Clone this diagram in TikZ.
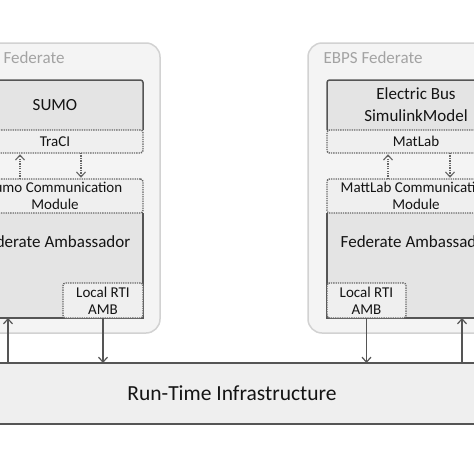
\documentclass[tikz,border=0pt]{standalone}
\usepackage{fontspec}
\setmainfont{Carlito}
\usetikzlibrary{arrows.meta,calc}
\definecolor{outerfill}{HTML}{F4F4F4}
\definecolor{outerline}{HTML}{D2D2D2}
\definecolor{darkfill}{HTML}{E4E4E4}
\definecolor{lightfill}{HTML}{EFEFEF}
\definecolor{lineg}{HTML}{555555}
\definecolor{dotg}{HTML}{666666}
\definecolor{labelg}{HTML}{A3A3A3}
\definecolor{txt}{HTML}{141414}
\tikzset{
  box/.style={rectangle, inner sep=0pt, outer sep=0pt, text=txt, align=center},
  outerbox/.style={box, fill=outerfill, draw=outerline, line width=1.5pt, rounded corners=14pt},
  dotbox/.style={box, draw=dotg, line width=1.4pt, dash pattern=on 1.3pt off 1pt, rounded corners=2.5pt},
  solidline/.style={draw=lineg, line width=1.5pt},
  arr/.style={draw=lineg, line width=1.3pt, -{Straight Barb[length=5pt,width=9pt,line width=1.2pt]}},
  dotarr/.style={draw=dotg, line width=1.2pt, dash pattern=on 1.3pt off 1.1pt, -{Straight Barb[length=5pt,width=9pt,line width=1.1pt,sep]}},
  big/.style={font=\fontsize{17}{20}\selectfont},
  mid/.style={font=\fontsize{15}{17}\selectfont},
  small/.style={font=\fontsize{15}{17}\selectfont},
}
\begin{document}
\begin{tikzpicture}[x=1pt,y=-1pt]
\useasboundingbox (0,0) rectangle (474,474);
\clip (0,0) rectangle (474,474);
\fill[white] (0,0) rectangle (474,474);
% outer federate boxes
\node[outerbox, minimum width=214pt, minimum height=290pt] (outL) at (53,188) {};
\node[outerbox, minimum width=214pt, minimum height=290pt] (outR) at (415,188) {};
\node[anchor=east, text=labelg, big] (labL) at (68,58) {SUMO Federate};
\node[anchor=west, text=labelg, big] (labR) at (320,58) {EBPS Federate};
% ----- left federate -----
\node[box, fill=darkfill, minimum width=176pt, minimum height=50pt, big] (sumo) at (55,105) {SUMO};
\draw[solidline, rounded corners=2.5pt] (sumo.south west) -- (sumo.north west) -- (sumo.north east) -- (sumo.south east);
\node[dotbox, fill=lightfill, minimum width=176pt, minimum height=23pt, mid] (traci) at (55,141.5) {TraCI};
\node[box, fill=darkfill, minimum width=176pt, minimum height=105pt] (faL) at (55,265.5) {};
\draw[solidline] (faL.north west) -- (faL.south west) -- (faL.south east) -- (faL.north east);
\node[dotbox, fill=lightfill, minimum width=176pt, minimum height=34pt, mid] (commL) at (55,196) {Sumo Communication\\Module};
\node[box, big] (faLtext) at (55,242) {Federate Ambassador};
\node[dotbox, fill=lightfill, minimum width=80pt, minimum height=35pt, small] (ambL) at (103,300.5) {Local RTI\\AMB};
% ----- right federate -----
\node[box, fill=darkfill, minimum width=178pt, minimum height=50pt, big] (ebus) at (416,105) {Electric Bus\\[2pt]SimulinkModel};
\draw[solidline, rounded corners=2.5pt] (ebus.south west) -- (ebus.north west) -- (ebus.north east) -- (ebus.south east);
\node[dotbox, fill=lightfill, minimum width=178pt, minimum height=23pt, mid] (matlab) at (416,141.5) {MatLab};
\node[box, fill=darkfill, minimum width=178pt, minimum height=105pt] (faR) at (416,265.5) {};
\draw[solidline] (faR.north west) -- (faR.south west) -- (faR.south east) -- (faR.north east);
\node[dotbox, fill=lightfill, minimum width=178pt, minimum height=34pt, mid] (commR) at (416,196) {MattLab Communication\\Module};
\node[box, big] (faRtext) at (416,242) {Federate Ambassador};
\node[dotbox, fill=lightfill, minimum width=79pt, minimum height=35pt, small] (ambR) at (366.5,300.5) {Local RTI\\AMB};
% ----- RTI bar -----
\node[box, fill=lightfill, minimum width=500pt, minimum height=61pt, font=\fontsize{21.5}{24}\selectfont] (rti) at (232,393.5) {Run-Time Infrastructure};
\draw[solidline] (rti.north west) -- (rti.north east);
\draw[solidline] (rti.south west) -- (rti.south east);
% ----- dotted arrows -----
\coordinate (dl1) at (20,179);
\coordinate (dl2) at (81,153);
\coordinate (dr1) at (388,179);
\coordinate (dr2) at (450,153);
\draw[dotarr] (dl1) -- (dl1 |- traci.south);
\draw[dotarr] (dl2) -- (dl2 |- commL.north);
\draw[dotarr] (dr1) -- (dr1 |- matlab.south);
\draw[dotarr] (dr2) -- (dr2 |- commR.north);
% ----- solid arrows -----
\coordinate (al) at (8,363);
\coordinate (ar) at (462,363);
\draw[arr] (al) -- (al |- faL.south);
\draw[arr] (ambL.south) -- (ambL.south |- rti.north);
\draw[arr] (ambR.south) -- (ambR.south |- rti.north);
\draw[arr] (ar) -- (ar |- faR.south);
\end{tikzpicture}
\end{document}
